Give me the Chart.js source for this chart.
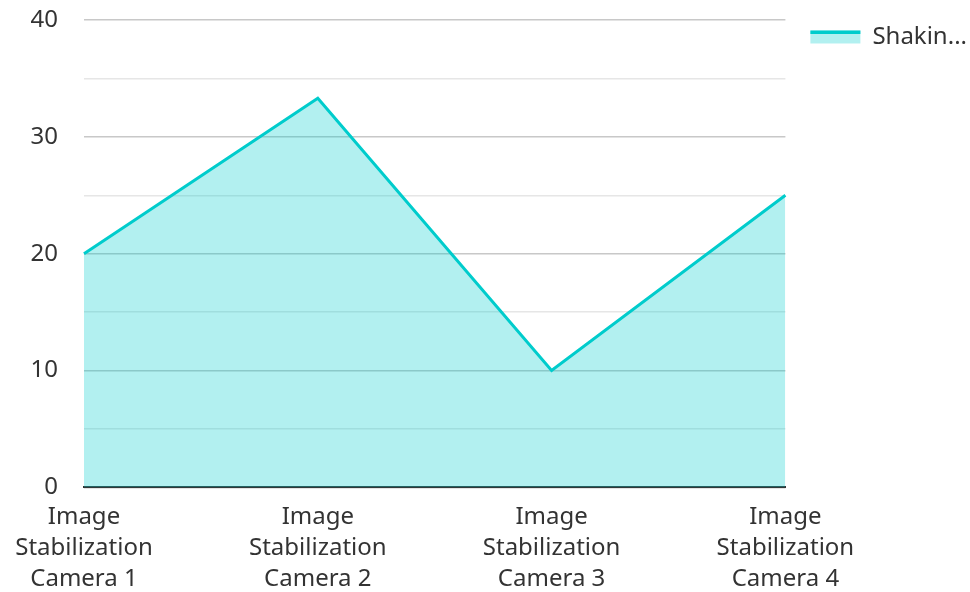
<!DOCTYPE html>
<html>
<head>
<meta charset="utf-8">
<script src="https://cdn.jsdelivr.net/npm/chart.js@4/dist/chart.umd.min.js"></script>
<style>
  html, body { margin: 0; padding: 0; background: #fff; }
  #wrap { width: 970px; height: 592px; }
</style>
</head>
<body>
<div id="wrap"><canvas id="myChart"></canvas></div>
<script>
const categories = [
  ['Image', 'Stabilization', 'Camera 1'],
  ['Image', 'Stabilization', 'Camera 2'],
  ['Image', 'Stabilization', 'Camera 3'],
  ['Image', 'Stabilization', 'Camera 4']
];
const seriesName = 'Shakin...';
const seriesValues = [20, 33.3, 10, 25];
const yTicks = [0, 10, 20, 30, 40];

const lineColor = '#00cccc';
const fillColor = 'rgba(0,204,204,0.3)';

// draws the line part of the legend marker on top of the filled box
const legendLine = {
  id: 'legendLine',
  afterDraw(chart) {
    const lg = chart.legend;
    if (!lg || !lg.legendHitBoxes) return;
    const ctx = chart.ctx;
    const box = lg.legendHitBoxes[0];
    const bw = lg.options.labels.boxWidth;
    const bh = lg.options.labels.boxHeight;
    const top = box.top + (box.height - bh) / 2;
    ctx.save();
    ctx.fillStyle = lineColor;
    ctx.fillRect(box.left, top, bw, 3.5);
    ctx.restore();
  }
};

const ctx = document.getElementById('myChart').getContext('2d');
const myChart = new Chart(ctx, {
  type: 'line',
  data: {
    labels: categories,
    datasets: [{
      label: seriesName,
      data: seriesValues,
      borderColor: lineColor,
      backgroundColor: fillColor,
      borderWidth: 3,
      pointRadius: 0,
      tension: 0,
      fill: 'origin'
    }]
  },
  options: {
    responsive: true,
    maintainAspectRatio: false,
    animation: false,
    layout: { padding: { top: 0, right: -7, left: 0, bottom: -9 } },
    plugins: {
      tooltip: { enabled: false },
      legend: {
        position: 'right',
        align: 'start',
        labels: {
          color: '#333',
          font: { family: 'Noto Sans', size: 24 },
          boxWidth: 50,
          boxHeight: 13,
          padding: 25,
          generateLabels(chart) {
            return chart.data.datasets.map((ds, i) => ({
              text: ds.label,
              fillStyle: fillColor,
              strokeStyle: fillColor,
              lineWidth: 0,
              fontColor: '#333',
              datasetIndex: i
            }));
          }
        }
      }
    },
    scales: {
      x: {
        offset: false,
        grid: { display: false },
        border: { display: true, color: '#333', width: 2 },
        ticks: {
          color: '#333',
          font: { family: 'Noto Sans', size: 24, lineHeight: 1.3 },
          maxRotation: 0,
          autoSkip: false,
          padding: 6
        }
      },
      y: {
        min: 0,
        max: 40,
        border: { display: false },
        grid: {
          drawTicks: false,
          lineWidth: 1.5,
          color: c => (c.tick && yTicks.includes(c.tick.value)) ? '#c8c8c8' : '#e6e6e6'
        },
        ticks: {
          stepSize: 5,
          color: '#333',
          padding: 26,
          font: { family: 'Noto Sans', size: 24 },
          callback: v => yTicks.includes(v) ? v : ''
        },
        afterFit(s) {
          s.paddingTop = 20;
          s.paddingBottom = 0;
          s.width = 84;
        }
      }
    }
  },
  plugins: [legendLine]
});
</script>
</body>
</html>
